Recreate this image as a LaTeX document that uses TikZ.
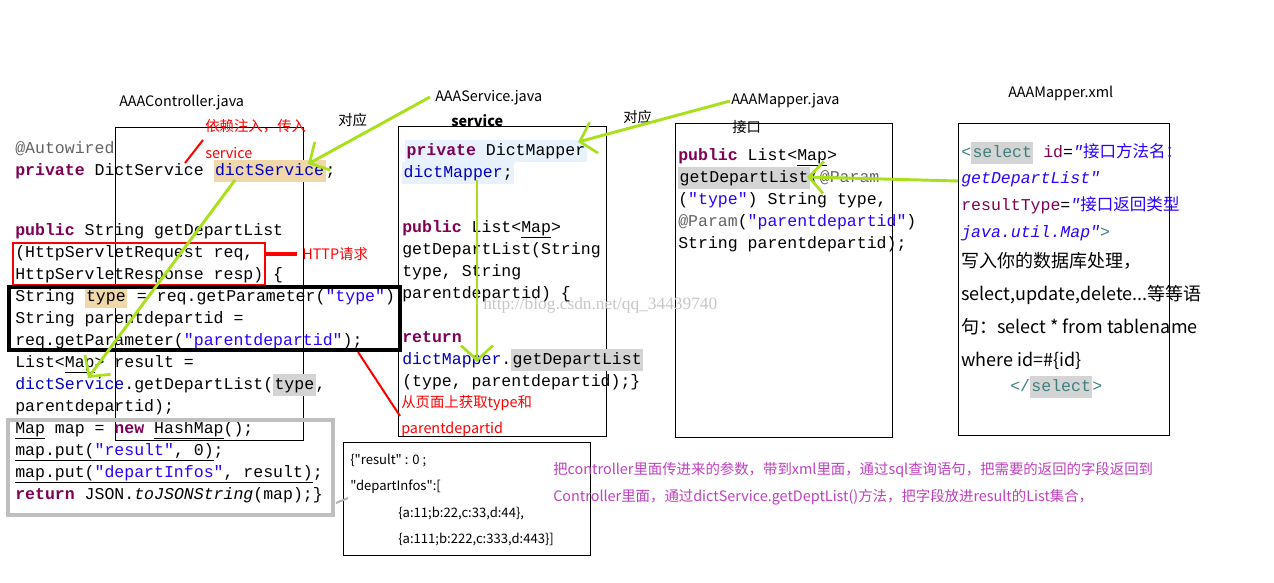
\documentclass[tikz,border=0pt]{standalone}
\usepackage{fontspec}
\setmainfont{Noto Sans CJK SC}
\setmonofont{Liberation Mono}
\newfontfamily\cjk{Noto Sans CJK SC}
\newfontfamily\wmk{Liberation Serif}
\usetikzlibrary{arrows.meta}
\definecolor{kwc}{HTML}{7F0055}
\definecolor{stc}{HTML}{2A00FF}
\definecolor{fdc}{HTML}{0000C0}
\definecolor{anc}{HTML}{646464}
\definecolor{grn}{HTML}{A8E01C}
\definecolor{tan}{HTML}{F0D8A8}
\definecolor{hgr}{HTML}{D4D4D4}
\definecolor{hbl}{HTML}{E8F2FE}
\definecolor{pur}{HTML}{C040C0}
\definecolor{xtl}{HTML}{3F7F7F}
\newcommand{\kw}[1]{\textcolor{kwc}{\textbf{#1}}}
\newcommand{\stq}[1]{\textcolor{stc}{#1}}
\newcommand{\fd}[1]{\textcolor{fdc}{#1}}
\newcommand{\hlc}[2]{{\setlength{\fboxsep}{1pt}\colorbox{#1}{\strut #2}}}
\newcommand{\codef}{\ttfamily\fontsize{12.4}{15}\selectfont}
\begin{document}
\begin{tikzpicture}[x=0.75pt,y=-0.75pt,
  cd/.style={anchor=base west,inner sep=0pt,font=\codef},
  lb/.style={anchor=base west,inner sep=0pt,font=\cjk\fontsize{10.8}{12}\selectfont},
  rl/.style={lb,text=red},
  box/.style={draw,line width=0.75pt},
  ga/.style={draw=grn,line width=2.2pt,-{Straight Barb[length=11pt,width=24pt,line width=2pt]}},
  rline/.style={draw=red,line width=1.5pt}]
\useasboundingbox[fill=white] (0,0) rectangle (1274,582);
% boxes
\node[box,minimum width=188*0.75pt,minimum height=313*0.75pt,anchor=north west,inner sep=0] (cbox) at (115,127) {};
\node[box,minimum width=208*0.75pt,minimum height=310*0.75pt,anchor=north west,inner sep=0] (sbox) at (398,126) {};
\node[box,minimum width=217*0.75pt,minimum height=314*0.75pt,anchor=north west,inner sep=0] (mbox) at (675,123) {};
\node[box,minimum width=211*0.75pt,minimum height=312*0.75pt,anchor=north west,inner sep=0] (xbox) at (958,123) {};
\node[box,minimum width=247*0.75pt,minimum height=113*0.75pt,anchor=north west,inner sep=0] (jbox) at (343,442) {};
% watermark
\node[anchor=base west,inner sep=0,font=\wmk\fontsize{13}{15}\selectfont,text=black!22] (wm) at (483,309) {http://blog.csdn.net/qq\_34439740};
% titles
\node[lb] (t1) at (119,106) {AAAController.java};
\node[lb] (t2) at (435,101) {AAAService.java};
\node[lb,font=\cjk\bfseries\fontsize{10.8}{12}\selectfont] (t2b) at (451,126) {service};
\node[lb] (t3) at (731,104) {AAAMapper.java};
\node[lb] (t3b) at (732,132) {接口};
\node[lb] (t4) at (1008,97) {AAAMapper.xml};
\node[lb] (dy1) at (338,125) {对应};
\node[lb] (dy2) at (623,122) {对应};
% controller code
\node[cd] (c1) at (15,153) {\textcolor{anc}{@Autowired}};
\node[cd] (c2) at (15,175) {\kw{private} DictService \hlc{tan}{\fd{dictService}};};
\node[cd] (c3) at (15,235) {\kw{public} String getDepartList};
\node[cd] (c4) at (15,257) {(HttpServletRequest req,};
\node[cd] (c5) at (15,279) {HttpServletResponse resp) \{};
\node[cd] (c6) at (15,301) {String \hlc{tan}{type} = req.getParameter(\stq{"type"})};
\node[cd] (c7) at (15,323) {String parentdepartid =};
\node[cd] (c8) at (15,345) {req.getParameter(\stq{"parentdepartid"});};
\node[cd] (c9) at (15,367) {List<\underline{Map}> result =};
\node[cd] (c10) at (15,389) {\fd{dictService}.getDepartList(\hlc{hgr}{type},};
\node[cd] (c11) at (15,411) {parentdepartid);};
\node[cd] (c12) at (15,433) {\underline{Map} map = \kw{new} \underline{HashMap}();};
\node[cd] (c13) at (15,455) {\underline{map.put(\stq{"result"}, 0)};};
\node[cd] (c14) at (15,477) {\underline{map.put(\stq{"departInfos"}, result)};};
\node[cd] (c15) at (15,499) {\kw{return} JSON.\textit{toJSONString}(map);\}};
% highlight boxes
\draw[red,line width=2pt] (13,243) rectangle (265,285);
\draw[black,line width=2.5pt] (9,287) rectangle (400,350);
\draw[black!25,line width=2.5pt] (8,420) rectangle (333,515);
% red labels
\node[rl] (r1) at (205,131) {依赖注入，传入};
\node[rl] (r2) at (205,158) {service};
\node[rl] (r3) at (302,259) {HTTP请求};
\node[rl] (r4) at (401,407) {从页面上获取type和};
\node[rl] (r5) at (401,433) {parentdepartid};
\coordinate (ra) at (185,163); \coordinate (rb) at (203,140);
\draw[rline] (ra) -- (rb);
\coordinate (rc) at (265,254); \coordinate (rd) at (297,254);
\draw[rline,line width=2.5pt] (rc) -- (rd);
\coordinate (re) at (358,352); \coordinate (rf) at (400,416);
\draw[rline] (re) -- (rf);
% service code
\node[cd] (s1) at (405,155) {\hlc{hbl}{\kw{private} DictMapper}};
\node[cd] (s2) at (402,177) {\hlc{hbl}{\fd{dictMapper};}};
\node[cd] (s3) at (402,232) {\kw{public} List<\underline{Map}>};
\node[cd] (s4) at (402,254) {getDepartList(String};
\node[cd] (s5) at (402,276) {type, String};
\node[cd] (s6) at (402,298) {parentdepartid) \{};
\node[cd] (s7) at (402,342) {\kw{return}};
\node[cd] (s8) at (402,364) {\fd{dictMapper}.\hlc{hgr}{getDepartList}};
\node[cd] (s9) at (402,386) {(type, parentdepartid);\}};
% mapper code
\node[cd] (m1) at (678,160) {\kw{public} List<\underline{Map}>};
\node[cd] (m2) at (678,182) {\hlc{hgr}{getDepartList}(\textcolor{anc}{@Param}};
\node[cd] (m3) at (678,204) {(\stq{"type"}) String type,};
\node[cd] (m4) at (678,226) {\textcolor{anc}{@Param}(\stq{"parentdepartid"})};
\node[cd] (m5) at (678,248) {String parentdepartid);};
% xml
\node[cd] (x1) at (961,157) {\textcolor{xtl}{<\hlc{hgr}{select}} \textcolor{kwc}{id}=\textcolor{stc}{\textit{"{\cjk 接口方法名：}}}};
\node[cd] (x2) at (961,183) {\textcolor{stc}{\textit{getDepartList"}}};
\node[cd] (x3) at (961,210) {\textcolor{kwc}{resultType}=\textcolor{stc}{\textit{"{\cjk 接口返回类型}}}};
\node[cd] (x4) at (961,237) {\textcolor{stc}{\textit{java.util.Map"}}\textcolor{xtl}{>}};
\node[lb,font=\cjk\fontsize{13.5}{15}\selectfont] (x5) at (961,267) {写入你的数据库处理，};
\node[lb,font=\cjk\fontsize{13.5}{15}\selectfont] (x6) at (961,300) {select,update,delete...等等语};
\node[lb,font=\cjk\fontsize{13.5}{15}\selectfont] (x7) at (961,333) {句：select * from tablename};
\node[lb,font=\cjk\fontsize{13.5}{15}\selectfont] (x8) at (961,366) {where id=\#\{id\}};
\node[cd] (x9) at (1010,391) {\textcolor{xtl}{</\hlc{hgr}{select}>}};
% json
\node[lb,font=\cjk\fontsize{9.8}{12}\selectfont] (j1) at (350,464) {\{"result" : 0 ;};
\node[lb,font=\cjk\fontsize{9.8}{12}\selectfont] (j2) at (350,490) {"departInfos":[};
\node[lb,font=\cjk\fontsize{9.8}{12}\selectfont] (j3) at (398,517) {\{a:11;b:22,c:33,d:44\},};
\node[lb,font=\cjk\fontsize{9.8}{12}\selectfont] (j4) at (398,543) {\{a:111;b:222,c:333,d:443\}]};
\coordinate (ja) at (336,503); \coordinate (jb) at (348,498);
\draw[black!30,line width=1.5pt] (ja) -- (jb);
% purple text
\node[lb,text=pur] (p1) at (553,474) {把controller里面传进来的参数，带到xml里面，通过sql查询语句，把需要的返回的字段返回到};
\node[lb,text=pur] (p2) at (553,501) {Controller里面，通过dictService.getDeptList()方法，把字段放进result的List集合，};
% green arrows
\coordinate (g1a) at (430,97); \coordinate (g1b) at (308,164);
\draw[ga] (g1a) -- (g1b);
\coordinate (g2a) at (235,180); \coordinate (g2b) at (88,378);
\draw[ga] (g2a) -- (g2b);
\coordinate (g3a) at (730,101); \coordinate (g3b) at (578,142);
\draw[ga] (g3a) -- (g3b);
\coordinate (g4a) at (477,180); \coordinate (g4b) at (477,362);
\draw[ga] (g4a) -- (g4b);
\coordinate (g5a) at (958,181); \coordinate (g5b) at (807,177);
\draw[ga] (g5a) -- (g5b);
\end{tikzpicture}
\end{document}
